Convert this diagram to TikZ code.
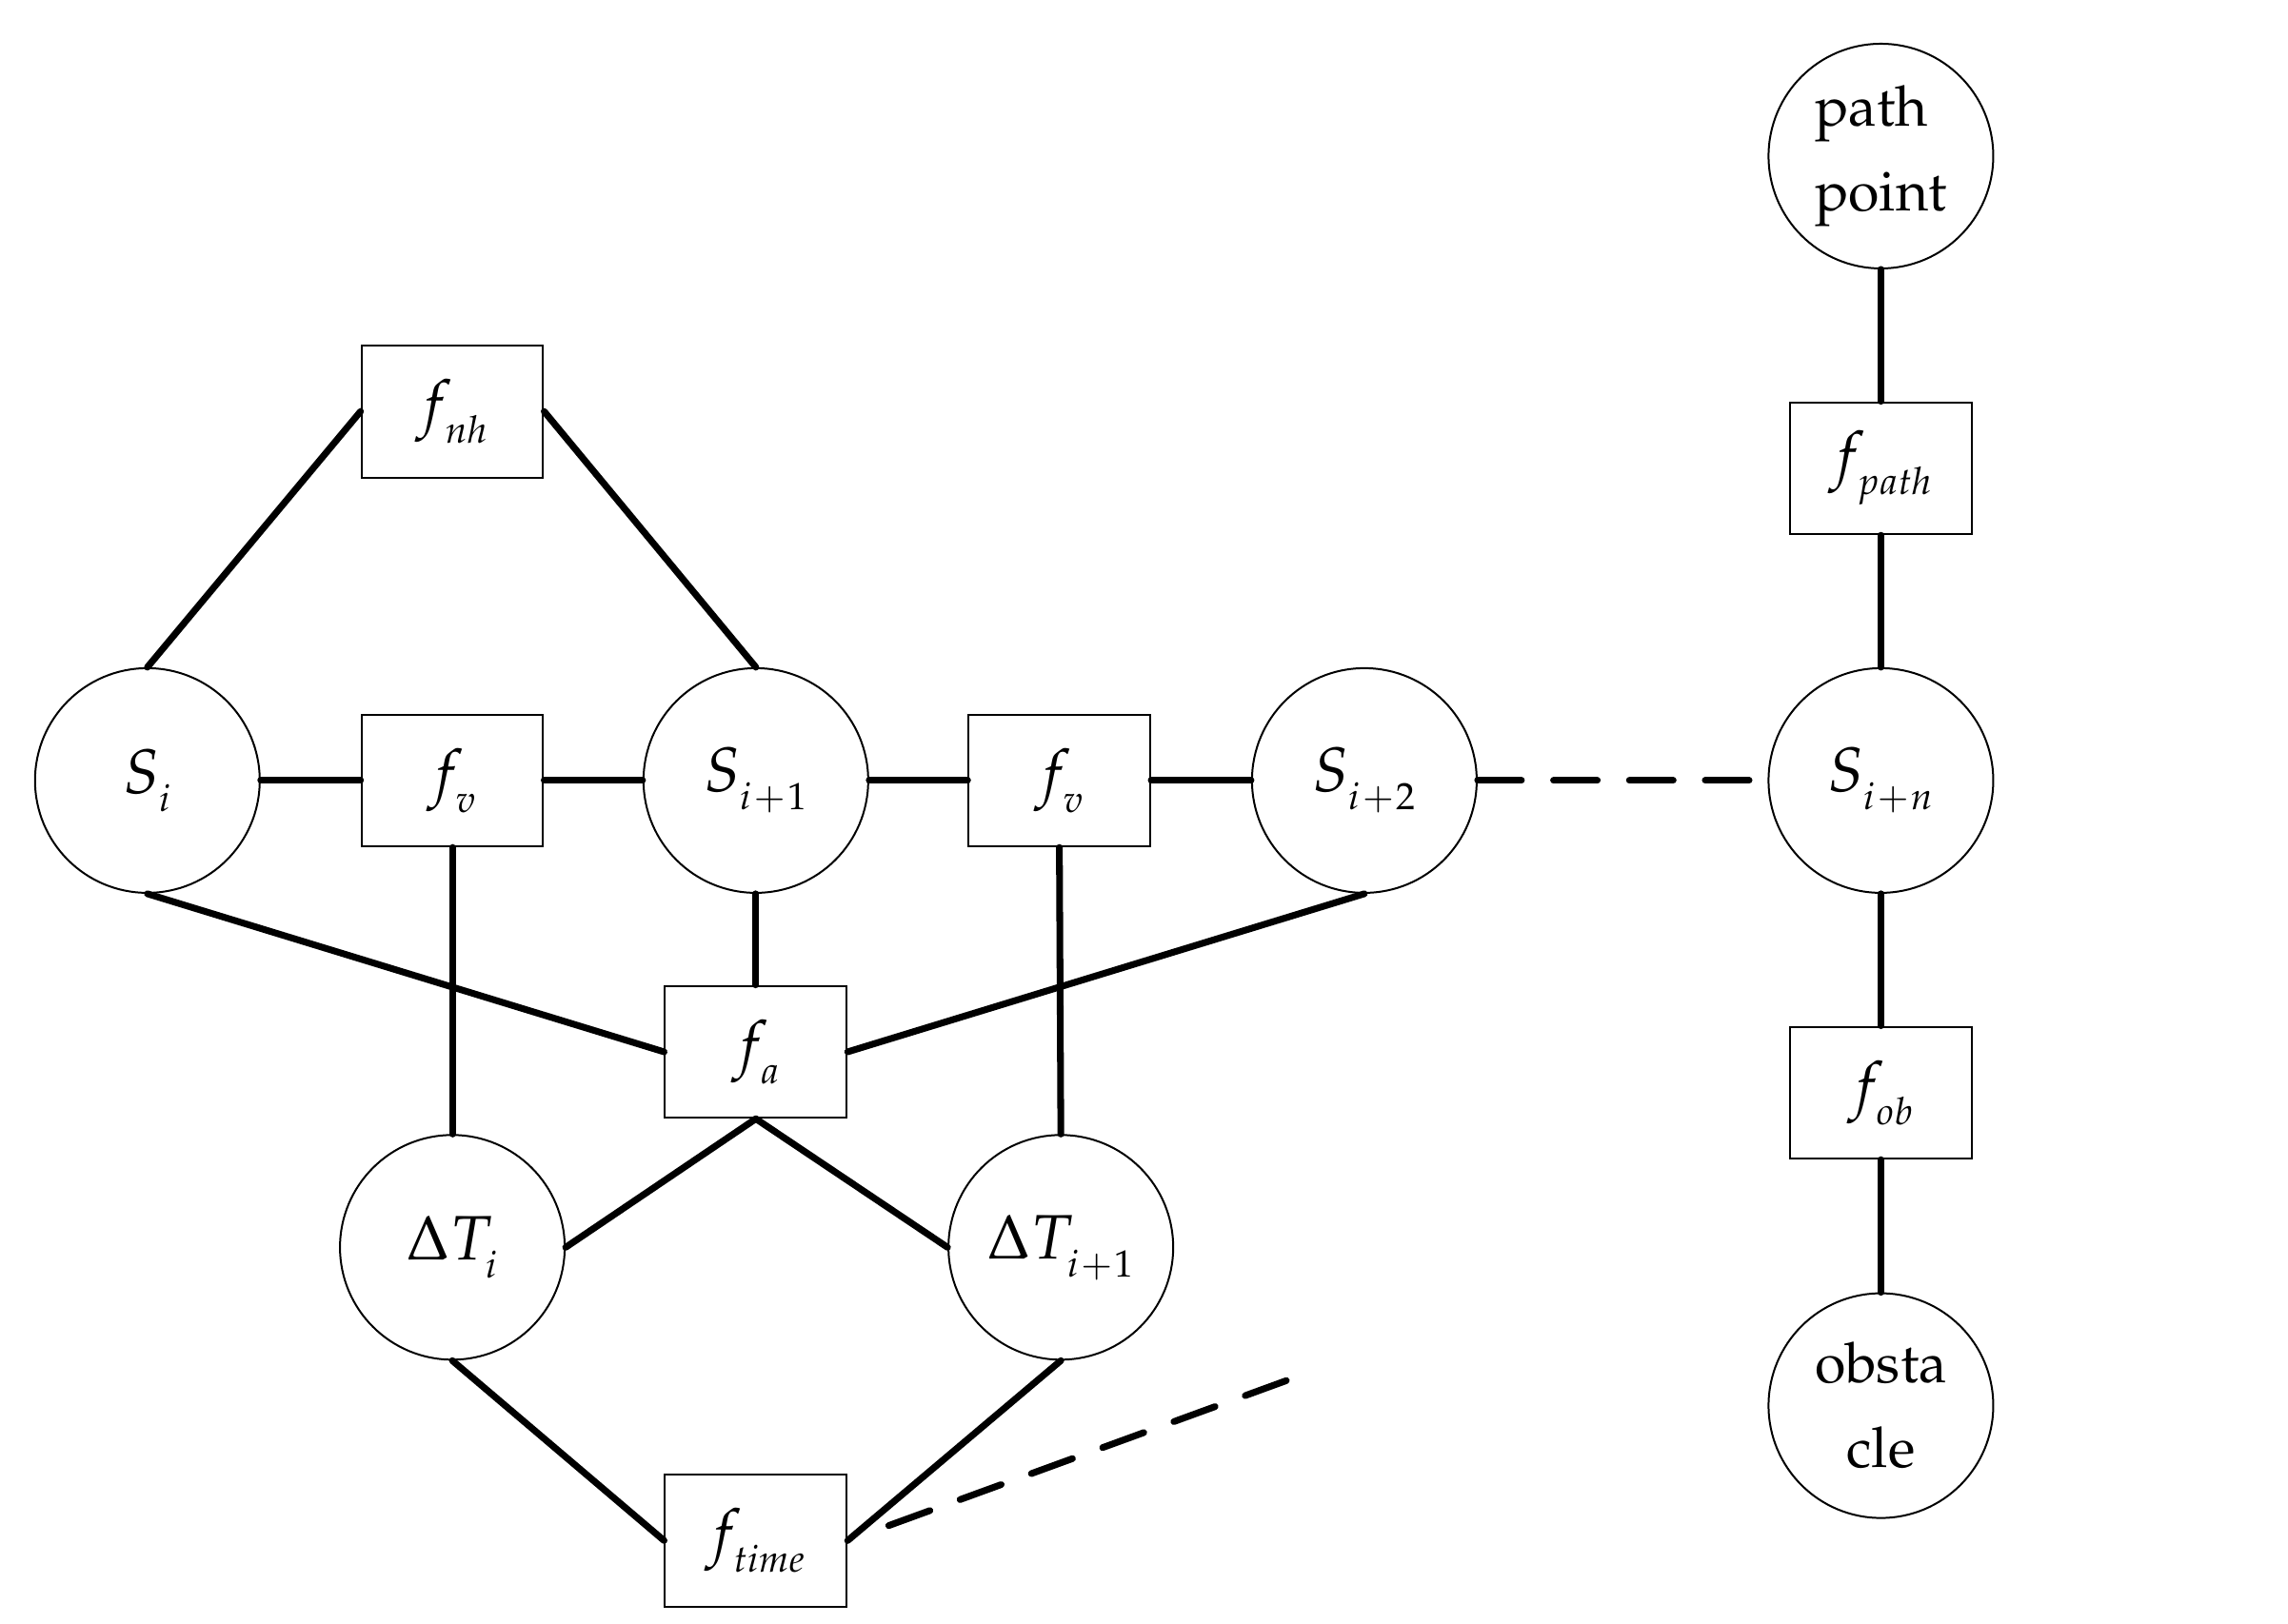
\documentclass[tikz,border=0pt]{standalone}
\usepackage[T1]{fontenc}
\usepackage{mathpazo}
\newcommand\lsub[1]{_{\lower6pt\hbox{\fontsize{26}{26}\selectfont\medmuskip=1mu$#1$}}}
\begin{document}
\begin{tikzpicture}[x=1pt,y=-1pt,
  var/.style={circle, draw, line width=1.3pt, minimum size=154pt, inner sep=0pt,
    font=\fontsize{43}{58}\selectfont},
  txt/.style={font=\fontsize{38.5}{58}\selectfont},
  fac/.style={rectangle, draw, line width=1.3pt, minimum width=124.5pt, minimum height=90.5pt,
    inner sep=0pt, font=\fontsize{43}{58}\selectfont},
  edge/.style={line width=4.6pt, line cap=round},
  dashedge/.style={edge, dash pattern=on 30pt off 22pt}]
\useasboundingbox (0,0) rectangle (1568,1113);

% variable nodes
\node[var] (Si)  at (101,535) {$S\lsub{i}$};
\node[var] (Si1) at (518,535) {$S\lsub{i+1}$};
\node[var] (Si2) at (935,535) {$S\lsub{i+2}$};
\node[var] (Sin) at (1289,535) {$S\lsub{i+n}$};
\node[var, txt, align=left] (pp) at (1289,107) {path\\point};
\node[var, txt, align=center] (ob) at (1289,963.5) {obsta\\cle};
\node[var] (dT)  at (310,855) {$\Delta T\lsub{i}$};
\node[var] (dT1) at (727,855) {$\Delta T\lsub{i+1}$};

% factor nodes
\node[fac] (fnh) at (310,282) {$f\lsub{nh}$};
\node[fac] (fv1) at (310,535) {$f\lsub{v}$};
\node[fac] (fv2) at (726,535) {$f\lsub{v}$};
\node[fac] (fa)  at (518,721) {$f\lsub{a}$};
\node[fac] (ft)  at (518,1056) {$f\lsub{time}$};
\node[fac] (fp)  at (1289,321) {$f\lsub{path}$};
\node[fac] (fob) at (1289,749) {$f\lsub{ob}$};

\coordinate (tend) at (888,944);

% connectors
\draw[edge] (fnh.west) -- (Si.north);
\draw[edge] (fnh.east) -- (Si1.north);
\draw[edge] (Si.east) -- (fv1.west);
\draw[edge] (fv1.east) -- (Si1.west);
\draw[edge] (Si1.east) -- (fv2.west);
\draw[edge] (fv2.east) -- (Si2.west);
\draw[dashedge] (Si2.east) -- (Sin.west);
\draw[edge] (Si.south) -- (fa.west);
\draw[edge] (Si2.south) -- (fa.east);
\draw[edge] (Si1.south) -- (fa.north);
\draw[edge] (fv1.south) -- (dT.north);
\draw[edge] (fv2.south) -- (dT1.north);
\draw[edge] (fa.south) -- (dT.east);
\draw[edge] (fa.south) -- (dT1.west);
\draw[edge] (dT.south) -- (ft.west);
\draw[edge] (dT1.south) -- (ft.east);
\draw[dashedge, dash phase=30pt, shorten <=8pt] (ft.east) -- (tend);
\draw[edge] (pp.south) -- (fp.north);
\draw[edge] (fp.south) -- (Sin.north);
\draw[edge] (Sin.south) -- (fob.north);
\draw[edge] (fob.south) -- (ob.north);
\end{tikzpicture}
\end{document}
